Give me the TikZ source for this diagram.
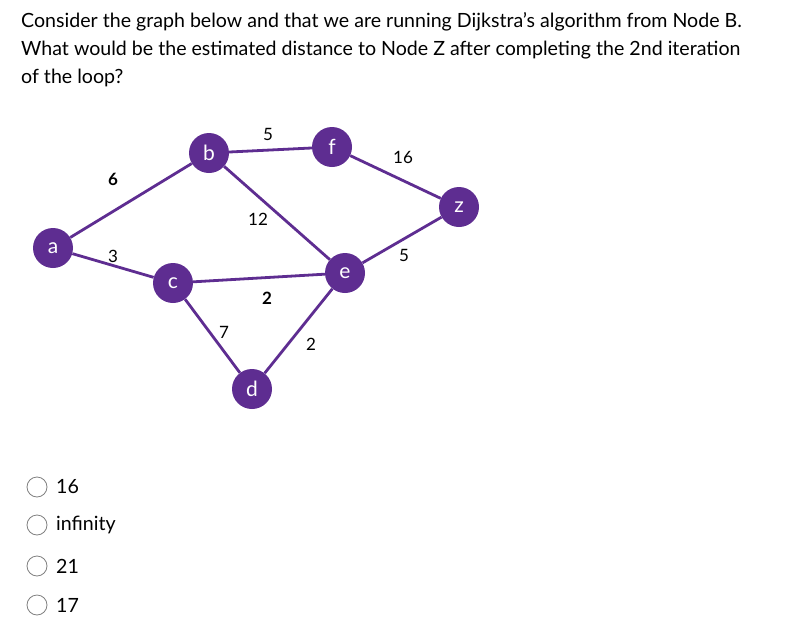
\documentclass[tikz,border=0pt]{standalone}
\usepackage{fontspec}
\setmainfont{Lato}
\begin{document}
\begin{tikzpicture}[x=1pt,y=-1pt,
  vtx/.style={circle,fill=vpurple,text=white,minimum size=40pt,inner sep=0pt,font=\fontsize{21}{21}\selectfont},
  edge/.style={draw=vpurple,line width=2.8pt},
  wt/.style={font=\fontsize{17}{17}\selectfont},
  txt/.style={anchor=west,inner sep=0pt,font=\fontsize{19.6}{22}\selectfont},
  radio/.style={circle,draw=gray,line width=0.8pt,minimum size=20pt,inner sep=0pt}]
\definecolor{vpurple}{HTML}{5E2D91}
\useasboundingbox (0,0) rectangle (796,635);
\node[txt] (q1) at (21,22) {Consider the graph below and that we are running Dijkstra{\char"27}s algorithm from Node B.};
\node[txt] (q2) at (21,50) {What would be the estimated distance to Node Z after completing the 2nd iteration};
\node[txt] (q3) at (21,78) {of the loop?};
\node[vtx] (a) at (53,248) {a};
\node[vtx] (b) at (209,153) {b};
\node[vtx] (f) at (332,147) {f};
\node[vtx] (z) at (459,207) {z};
\node[vtx] (e) at (345,273) {e};
\node[vtx] (c) at (173,283) {c};
\node[vtx] (d) at (252,389) {d};
\draw[edge] (a) -- (b);
\draw[edge] (a) -- (c);
\draw[edge] (b) -- (f);
\draw[edge] (b) -- (e);
\draw[edge] (f) -- (z);
\draw[edge] (e) -- (z);
\draw[edge] (c) -- (e);
\draw[edge] (c) -- (d);
\draw[edge] (d) -- (e);
\node[wt,font=\fontsize{17}{17}\selectfont\bfseries] (w1) at (113,179) {6};
\node[wt] (w2) at (113,256) {3};
\node[wt] (w3) at (268,134) {5};
\node[wt] (w4) at (403,157) {16};
\node[wt] (w5) at (258,219) {12};
\node[wt] (w6) at (404,255) {5};
\node[wt,font=\fontsize{17}{17}\selectfont\bfseries] (w7) at (267,298) {2};
\node[wt] (w8) at (224,332) {7};
\node[wt] (w9) at (311,344) {2};
\node[radio] (r1) at (37,487) {};
\node[radio] (r2) at (37,525) {};
\node[radio] (r3) at (37,566) {};
\node[radio] (r4) at (37,605) {};
\node[txt] (o1) at (56,487) {16};
\node[txt] (o2) at (56,525) {infinity};
\node[txt] (o3) at (56,566) {21};
\node[txt] (o4) at (56,605) {17};
\end{tikzpicture}
\end{document}
